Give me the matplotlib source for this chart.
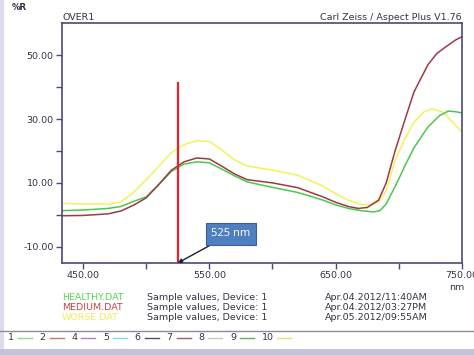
import matplotlib
matplotlib.use("Agg")
import matplotlib.pyplot as plt
from matplotlib.patches import Rectangle
from matplotlib.lines import Line2D

plt.rcParams['font.family'] = ['DejaVu Sans']

# reflectance spectra (nm, %R)
wl_healthy = [433, 450, 470, 480, 490, 500, 510, 520, 530, 540, 550, 560, 570, 580,
              600, 620, 640, 650, 660, 670, 680, 685, 690, 697, 705, 712, 723, 732, 739, 745, 750]
r_healthy = [1.3, 1.5, 2.0, 2.6, 4.2, 5.6, 9.5, 13.6, 15.9, 16.6, 16.3, 14.3, 12.2, 10.3,
             8.6, 7.0, 4.6, 3.1, 2.0, 1.3, 0.9, 1.3, 3.4, 8.8, 15.5, 21.0, 27.5, 31.0, 32.5, 32.3, 31.9]

wl_medium = [433, 450, 470, 480, 490, 500, 510, 520, 530, 540, 550, 560, 570, 580,
             600, 620, 640, 650, 660, 668, 675, 684, 690, 697, 705, 712, 723, 730, 737, 745, 750]
r_medium = [-0.3, -0.2, 0.3, 1.2, 3.0, 5.3, 9.5, 14.0, 16.6, 17.8, 17.5, 15.2, 12.8, 11.0,
            10.0, 8.5, 5.6, 3.9, 2.6, 2.0, 2.3, 4.6, 10.0, 20.0, 30.0, 38.5, 47.0, 50.5, 52.6, 54.8, 55.8]

wl_worse = [433, 450, 470, 480, 490, 500, 510, 520, 530, 540, 550, 560, 570, 580,
            600, 620, 640, 650, 660, 670, 680, 685, 690, 697, 705, 712, 720, 726, 735, 745, 750]
r_worse = [3.6, 3.4, 3.4, 4.0, 7.0, 11.0, 15.2, 19.5, 22.0, 23.2, 23.0, 20.3, 17.2, 15.3,
           14.0, 12.4, 9.0, 6.6, 4.6, 3.2, 3.2, 4.4, 7.5, 17.0, 24.0, 29.0, 32.3, 33.2, 32.2, 28.0, 26.0]

marker_nm = 525
marker_top = 41.5

x_ticks = [450, 500, 550, 600, 650, 700, 750]
x_labels = ['450.00', '', '550.00', '', '650.00', '', '750.00']
y_ticks = [-10, 0, 10, 20, 30, 40, 50]
y_labels = ['-10.00', '', '10.00', '', '30.00', '', '50.00']

files = ['HEALTHY.DAT', 'MEDIUM.DAT', 'WORSE.DAT']
file_colors = ['#55d455', '#c24848', '#eeee55']
file_desc = ['Sample values, Device: 1'] * 3
file_dates = ['Apr.04.2012/11:40AM', 'Apr.04.2012/03:27PM', 'Apr.05.2012/09:55AM']

strip_labels = ['1', '2', '4', '5', '6', '7', '8', '9', '10']
strip_colors = ['#88dd88', '#d07070', '#b080c8', '#80d8e8', '#50506a',
                '#a06060', '#c8c8c8', '#60b060', '#e8e070']

fig = plt.figure(figsize=(4.74, 3.55), dpi=100)
fig.patch.set_facecolor('white')
W, H = 474, 355
FS = 6.8


def fx(px):
    return px / W


def fy(py):
    return 1 - py / H


# window borders
fig.patches.append(Rectangle((0, 0), fx(4), 1, transform=fig.transFigure,
                             facecolor='#dcdcee', edgecolor='none', zorder=-1))
fig.patches.append(Rectangle((0, 0), 1, fy(349), transform=fig.transFigure,
                             facecolor='#c4c4d8', edgecolor='none', zorder=-1))
fig.lines.append(Line2D([0, 1], [fy(331), fy(331)], transform=fig.transFigure,
                        color='#8a8a9c', lw=1.0))

y_lo, y_hi = -15.1, 60.1
ax = fig.add_axes([fx(62), fy(263), fx(462) - fx(62), fy(23) - fy(263)])
ax.set_xlim(433.4, 750)
ax.set_ylim(y_lo, y_hi)

frame = '#4a4a78'
for s in ax.spines.values():
    s.set_color(frame)
    s.set_linewidth(1.2)

ax.set_xticks(x_ticks)
ax.set_xticklabels(x_labels)
ax.set_yticks(y_ticks)
ax.set_yticklabels(y_labels)
ax.tick_params(direction='out', length=4, width=1.0, color=frame,
               labelsize=FS, labelcolor='#333344', pad=2)

ax.plot(wl_worse, r_worse, color='#f2f25a', lw=1.1)
ax.plot(wl_healthy, r_healthy, color='#4cc84c', lw=1.1)
ax.plot(wl_medium, r_medium, color='#9c3a42', lw=1.1)

ax.vlines(marker_nm, y_lo, marker_top, color='#e8202a', lw=1.6, zorder=5)
ax.annotate('525 nm', xy=(marker_nm, y_lo), xytext=(567, -6.0),
            ha='center', va='center', color='white', fontsize=8,
            family=['Open Sans', 'DejaVu Sans'],
            bbox=dict(boxstyle='square,pad=0.5', fc='#4f7fc0', ec='#3a5f90', lw=0.8),
            arrowprops=dict(arrowstyle='-|>', color='#1a2040', lw=1.0,
                            mutation_scale=6, shrinkA=0, shrinkB=0),
            annotation_clip=False, zorder=6)

txt = '#333344'
fig.text(fx(12), fy(7), '%R', fontsize=6.2, color=txt, ha='left', va='center', weight='bold')
fig.text(fx(62), fy(17), 'OVER1', fontsize=FS, color=txt, ha='left', va='center')
fig.text(fx(462), fy(17), 'Carl Zeiss / Aspect Plus V1.76', fontsize=FS, color=txt,
         ha='right', va='center')
fig.text(fx(457), fy(287), 'nm', fontsize=FS, color=txt, ha='center', va='center')

for i, name in enumerate(files):
    yy = fy(297 + i * 10)
    fig.text(fx(62), yy, name, fontsize=FS, color=file_colors[i], ha='left', va='center')
    fig.text(fx(147), yy, file_desc[i], fontsize=FS, color=txt, ha='left', va='center')
    fig.text(fx(325), yy, file_dates[i], fontsize=FS, color=txt, ha='left', va='center')

for i, lab in enumerate(strip_labels):
    x0 = 8 + i * 31.7
    fig.text(fx(x0), fy(338), lab, fontsize=FS, color=txt, ha='left', va='center')
    lx = x0 + (15 if len(lab) > 1 else 10)
    fig.lines.append(Line2D([fx(lx), fx(lx + 14)], [fy(338), fy(338)],
                            transform=fig.transFigure, color=strip_colors[i], lw=1.0))

fig.savefig('out.png', dpi=100)
